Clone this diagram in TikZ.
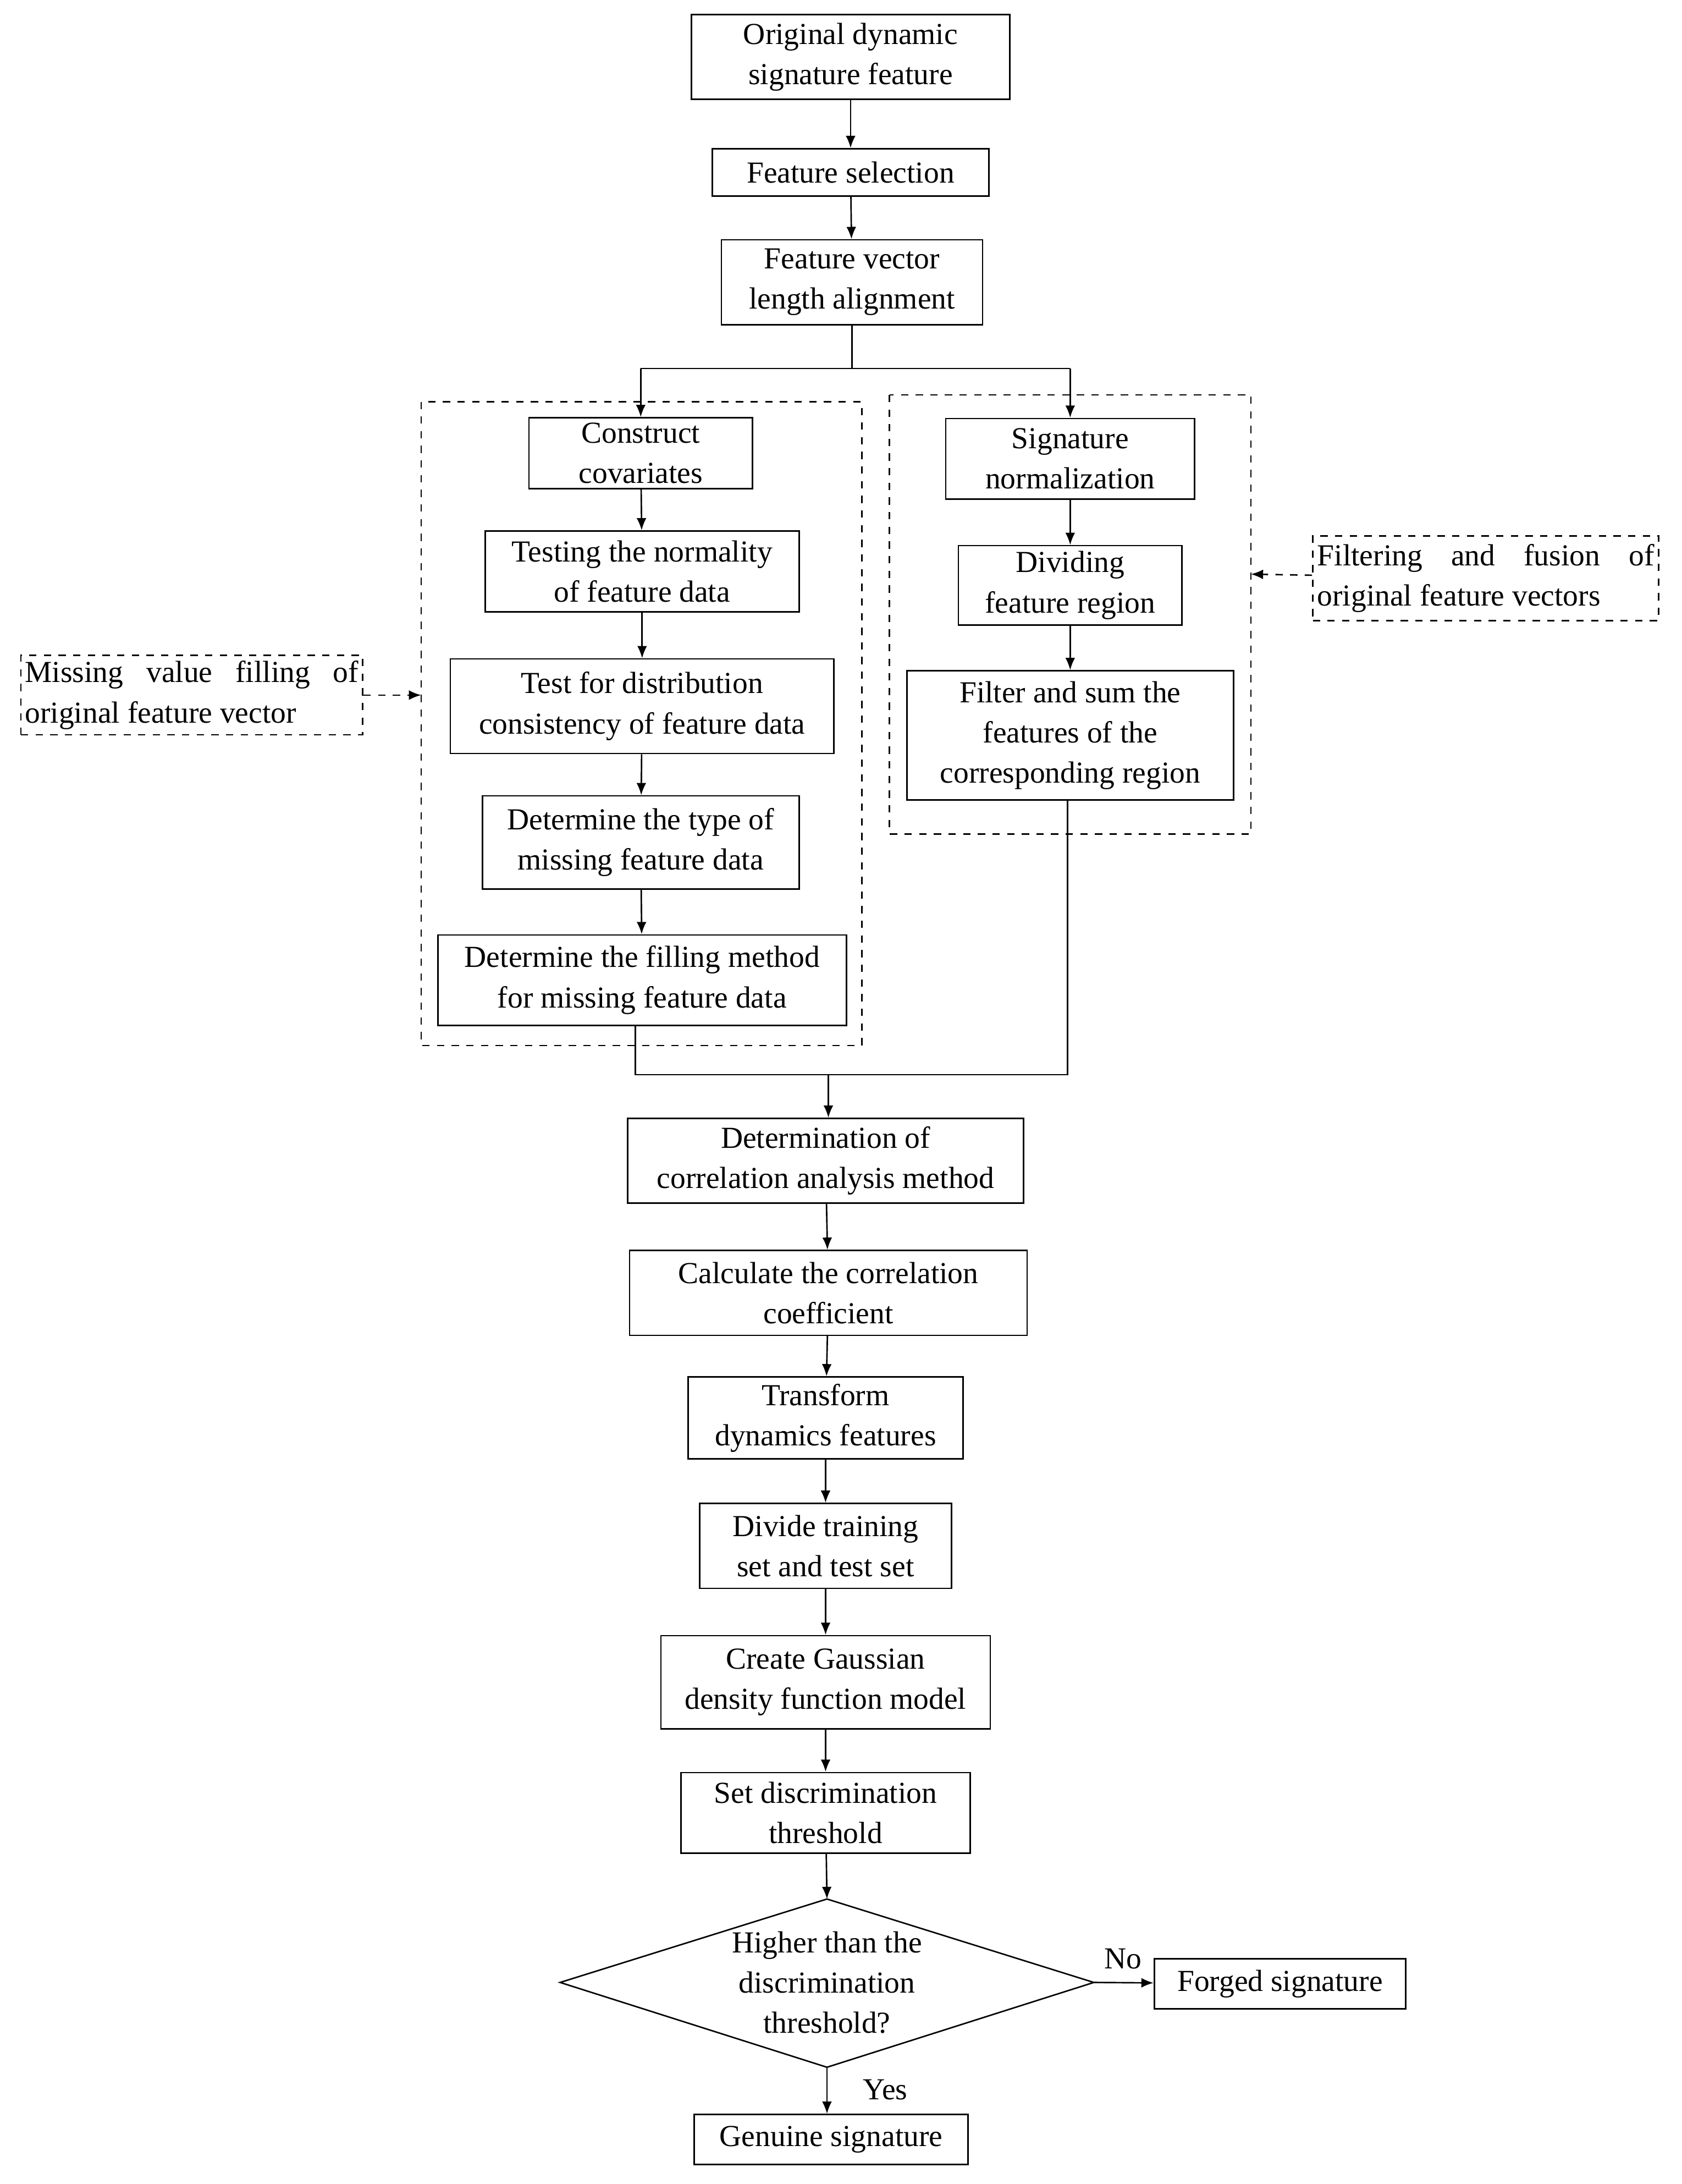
\documentclass[tikz,border=0pt]{standalone}
\usepackage{fontspec}
\setmainfont{Liberation Serif}
\usetikzlibrary{arrows.meta}
\begin{document}
\begin{tikzpicture}[x=0.02cm, y=-0.02cm,
  every node/.style={font=\fontsize{12.5}{16.5}\selectfont},
  box/.style={draw, line width=0.6pt, align=center, inner sep=0pt},
  note/.style={draw, dashed, line width=0.6pt, align=left, inner sep=0pt},
  lab/.style={inner sep=0pt},
  arr/.style={-{Latex[length=5pt,width=4pt]}, line width=0.6pt},
  darr/.style={arr, dashed},
  ln/.style={line width=0.6pt}]
\useasboundingbox (0,0) rectangle (1210,1571);
% main column top
\node[box, minimum width=4.58cm, minimum height=1.22cm] (orig) at (612,41) {Original dynamic\\signature feature};
\node[box, minimum width=3.98cm, minimum height=0.68cm] (sel) at (612,124) {Feature selection};
\node[box, minimum width=3.76cm, minimum height=1.22cm] (align) at (613,203) {Feature vector\\length alignment};
% left group
\node[box, minimum width=3.22cm, minimum height=1.02cm] (cov) at (461,326) {Construct\\covariates};
\node[box, minimum width=4.52cm, minimum height=1.16cm] (norm) at (462,411) {Testing the normality\\of feature data};
\node[box, minimum width=5.52cm, minimum height=1.36cm] (dist) at (462,508) {Test for distribution\\consistency of feature data};
\node[box, minimum width=4.56cm, minimum height=1.34cm] (type) at (461,606) {Determine the type of\\missing feature data};
\node[box, minimum width=5.88cm, minimum height=1.30cm] (fill) at (462,705) {Determine the filling method\\for missing feature data};
% right group
\node[box, minimum width=3.58cm, minimum height=1.16cm] (snorm) at (770,330) {Signature\\normalization};
\node[box, minimum width=3.22cm, minimum height=1.14cm] (div) at (770,421) {Dividing\\feature region};
\node[box, minimum width=4.70cm, minimum height=1.86cm] (filt) at (770,529) {Filter and sum the\\features of the\\corresponding region};
% dashed group frames
\draw[ln, dashed] (303,289) rectangle (620,752);
\draw[ln, dashed] (640,284) rectangle (900,600);
\coordinate (lbox) at (303,500);
\coordinate (rbox) at (900,413);
% notes
\node[note, minimum width=4.92cm, minimum height=1.14cm] (miss) at (138,500)
  {\makebox[4.8cm][s]{Missing value filling of}\\original feature vector};
\node[note, minimum width=4.98cm, minimum height=1.22cm] (fus) at (1069,416)
  {\makebox[4.85cm][s]{Filtering and fusion of}\\original feature vectors};
% lower column
\node[box, minimum width=5.70cm, minimum height=1.22cm] (det) at (594,835) {Determination of\\correlation analysis method};
\node[box, minimum width=5.72cm, minimum height=1.22cm] (calc) at (596,930) {Calculate the correlation\\coefficient};
\node[box, minimum width=3.96cm, minimum height=1.18cm] (trans) at (594,1020) {Transform\\dynamics features};
\node[box, minimum width=3.62cm, minimum height=1.22cm] (split) at (594,1112) {Divide training\\set and test set};
\node[box, minimum width=4.74cm, minimum height=1.34cm] (gauss) at (594,1210) {Create Gaussian\\density function model};
\node[box, minimum width=4.16cm, minimum height=1.16cm] (thr) at (594,1304) {Set discrimination\\threshold};
\node[align=center, inner sep=0pt] (dec) at (595,1426) {Higher than the\\discrimination\\threshold?};
\coordinate (dT) at (595,1366);
\coordinate (dB) at (595,1487);
\coordinate (dL) at (403,1426);
\coordinate (dR) at (787,1426);
\draw[ln] (dT) -- (dR) -- (dB) -- (dL) -- cycle;
\node[box, minimum width=3.62cm, minimum height=0.72cm] (forged) at (921,1427) {Forged signature};
\node[box, minimum width=3.94cm, minimum height=0.72cm] (gen) at (598,1539) {Genuine signature};
\node[lab] (no) at (808,1409) {No};
\node[lab] (yes) at (637,1503) {Yes};
% connectors
\draw[arr] (orig) -- (sel);
\draw[arr] (sel) -- (align);
\coordinate (spl) at (613,265);
\coordinate (splL) at (461,265);
\coordinate (splR) at (770,265);
\draw[ln] (align) -- (spl);
\draw[ln] (splL) -- (splR);
\draw[arr] (splL) -- (cov);
\draw[arr] (splR) -- (snorm);
\draw[arr] (cov) -- (norm);
\draw[arr] (norm) -- (dist);
\draw[arr] (dist) -- (type);
\draw[arr] (type) -- (fill);
\draw[arr] (snorm) -- (div);
\draw[arr] (div) -- (filt);
\draw[darr] (miss) -- (lbox);
\draw[darr] (fus) -- (rbox);
\coordinate (mL) at (457,773);
\coordinate (mR) at (768,773);
\coordinate (mC) at (596,773);
\draw[ln] (fill.south -| mL) -- (mL) -- (mR) -- (filt.south -| mR);
\draw[arr] (mC) -- (det.north -| mC);
\draw[arr] (det) -- (calc);
\draw[arr] (calc) -- (trans);
\draw[arr] (trans) -- (split);
\draw[arr] (split) -- (gauss);
\draw[arr] (gauss) -- (thr);
\draw[arr] (thr) -- (dT);
\draw[arr] (dR) -- (forged);
\draw[arr] (dB) -- (gen.north -| dB);
\end{tikzpicture}
\end{document}
